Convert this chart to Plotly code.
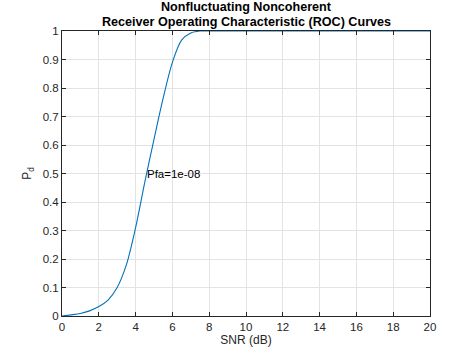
import plotly.graph_objects as go

snr_db = [0, 0.5, 1, 1.5, 2, 2.5, 3, 3.5, 4, 4.5, 5, 5.5, 6, 6.5, 7, 7.5, 8,
          9, 10, 11, 12, 13, 14, 15, 16, 17, 18, 19, 20]
pd_vals = [0, 0.004, 0.009, 0.018, 0.033, 0.056, 0.10, 0.18, 0.31, 0.47, 0.62,
           0.765, 0.89, 0.968, 0.993, 1, 1, 1, 1, 1, 1, 1, 1, 1, 1, 1, 1, 1, 1]
x_ticks = [0, 2, 4, 6, 8, 10, 12, 14, 16, 18, 20]
y_ticks = [0, 0.1, 0.2, 0.3, 0.4, 0.5, 0.6, 0.7, 0.8, 0.9, 1]
y_tick_labels = ["0", "0.1", "0.2", "0.3", "0.4", "0.5", "0.6", "0.7", "0.8", "0.9", "1"]
title_lines = ["Nonfluctuating Noncoherent", "Receiver Operating Characteristic (ROC) Curves"]
label_text = "Pfa=1e-08"
label_pos = (4.6, 0.5)

font_family = "Liberation Sans, Arial, sans-serif"

fig = go.Figure()
fig.add_trace(go.Scatter(
    x=snr_db, y=pd_vals, mode="lines",
    line=dict(color="#0072BD", width=1.1, shape="spline", smoothing=0.9),
    showlegend=False, hoverinfo="skip",
))

fig.add_annotation(
    x=label_pos[0], y=label_pos[1], text=label_text, showarrow=False,
    xanchor="left", yanchor="middle", xshift=-2,
    font=dict(family=font_family, size=11.5, color="#000000"),
)

for line_text, shift in zip(title_lines, [24, 9]):
    fig.add_annotation(
        xref="paper", yref="paper", x=0.5, y=1, yshift=shift,
        xanchor="center", yanchor="middle", showarrow=False,
        text="<b>" + line_text + "</b>",
        font=dict(family=font_family, size=12.6, color="#000000"),
    )

axis_common = dict(
    showline=True, linecolor="#262626", linewidth=1, mirror="allticks",
    ticks="inside", ticklen=4, tickcolor="#262626", tickwidth=1,
    showgrid=True, gridcolor="#e3e3e3", gridwidth=1, zeroline=False,
    automargin=False,
    tickfont=dict(family=font_family, size=11.5, color="#262626"),
)

fig.update_layout(
    width=474, height=355,
    margin=dict(l=62, r=44, t=31, b=39),
    paper_bgcolor="white", plot_bgcolor="white",
    xaxis=dict(
        range=[0, 20], tickvals=x_ticks, ticktext=[str(v) for v in x_ticks],
        title=dict(text="SNR (dB)", standoff=2,
                   font=dict(family=font_family, size=12, color="#262626")),
        **axis_common,
    ),
    yaxis=dict(
        range=[0, 1], tickvals=y_ticks, ticktext=y_tick_labels,
        title=dict(text="P<sub>d</sub>", standoff=8,
                   font=dict(family=font_family, size=12, color="#262626")),
        **axis_common,
    ),
)

fig.write_html("out.html", config={"displayModeBar": False},
               post_script="document.body.style.margin='0';document.body.style.overflow='hidden';")
